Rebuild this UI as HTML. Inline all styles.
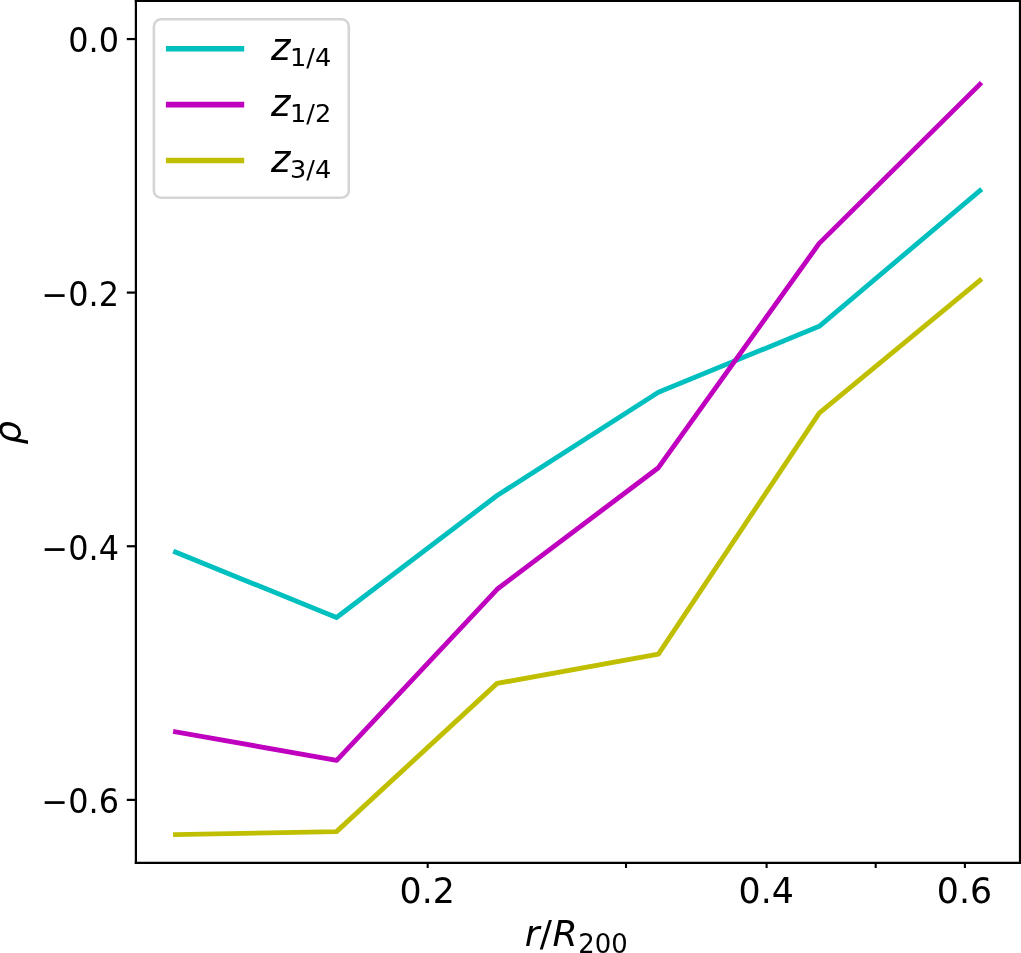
<!DOCTYPE html>
<html lang="en">
<head>
<meta charset="utf-8">
<title>rho vs r/R200</title>
<style>
html,body{margin:0;padding:0;background:#fff;}
body{width:1021px;height:953px;overflow:hidden;}
svg{display:block;}
text{font-family:"DejaVu Sans","Liberation Sans",sans-serif;fill:#000;}
.tick{font-size:33.33px;}
.lab{font-size:36.11px;}
.sub{font-size:25.6px;}
.it{font-style:oblique;}
</style>
</head>
<body>
<svg width="1021" height="953" viewBox="0 0 1021 953">
<rect x="0" y="0" width="1021" height="953" fill="#ffffff"/>

<!-- data lines -->
<g fill="none" stroke-width="4.85" stroke-linecap="square" stroke-linejoin="round">
<polyline stroke="#00bfbf" points="175.5,552.07 336.5,617.5 497.1,495.5 658.4,392.3 819.2,326.3 979.87,190.67"/>
<polyline stroke="#bf00bf" points="175.5,731.84 336.7,760.3 497.1,589.3 658.4,467.7 819.2,243.4 979.86,84.35"/>
<polyline stroke="#bfbf00" points="175.5,834.55 336.5,831.6 497.1,683.4 658.4,654.1 819.2,413.1 979.88,280.37"/>
</g>

<!-- spines -->
<g fill="none" stroke="#000" stroke-width="2.22" stroke-linecap="square">
<line x1="135.9" y1="1" x2="135.9" y2="862.9"/>
<line x1="1020" y1="1" x2="1020" y2="862.9"/>
<line x1="135.9" y1="862.9" x2="1020" y2="862.9"/>
<line x1="135.9" y1="1" x2="1020" y2="1"/>
</g>

<!-- y ticks -->
<g stroke="#000" stroke-width="2.22">
<line x1="126.8" y1="39.05" x2="135.9" y2="39.05"/>
<line x1="126.8" y1="292.6" x2="135.9" y2="292.6"/>
<line x1="126.8" y1="546.25" x2="135.9" y2="546.25"/>
<line x1="126.8" y1="799.9" x2="135.9" y2="799.9"/>
</g>
<g class="tick" text-anchor="end">
<text transform="translate(119.0,52.3) scale(0.957,1)">0.0</text>
<text transform="translate(119.0,305.9) scale(0.957,1)">−0.2</text>
<text transform="translate(119.0,559.5) scale(0.957,1)">−0.4</text>
<text transform="translate(119.0,813.2) scale(0.957,1)">−0.6</text>
</g>

<!-- x ticks (minor ticks on log axis) -->
<g stroke="#000" stroke-width="2.1">
<line x1="427.7" y1="862.9" x2="427.7" y2="868.0"/>
<line x1="626.0" y1="862.9" x2="626.0" y2="868.0"/>
<line x1="766.6" y1="862.9" x2="766.6" y2="868.0"/>
<line x1="875.7" y1="862.9" x2="875.7" y2="868.0"/>
<line x1="964.9" y1="862.9" x2="964.9" y2="868.0"/>
</g>
<g class="tick" text-anchor="middle" style="font-size:36.11px">
<text transform="translate(427.25,903.2) scale(0.963,1)">0.2</text>
<text transform="translate(766.15,903.2) scale(0.963,1)">0.4</text>
<text transform="translate(964.45,903.2) scale(0.963,1)">0.6</text>
</g>

<!-- axis labels -->
<text class="lab" x="524.8" y="946.1"><tspan class="it">r</tspan>/<tspan class="it" dx="0.6">R</tspan><tspan class="sub" dx="0.8" dy="7.0" style="font-size:25.9px">200</tspan></text>
<text class="lab it" style="font-size:37.2px" transform="translate(20.3,444.5) rotate(-90)">ρ</text>

<!-- legend -->
<rect x="153.9" y="19.2" width="194.9" height="178.6" rx="7.2" ry="7.2" fill="#ffffff" fill-opacity="0.8" stroke="#d5d5d5" stroke-width="2.6"/>
<g fill="none" stroke-width="5.56" stroke-linecap="butt">
<line stroke="#00bfbf" x1="165.9" y1="48.8" x2="244.2" y2="48.8"/>
<line stroke="#bf00bf" x1="165.9" y1="104.6" x2="244.2" y2="104.6"/>
<line stroke="#bfbf00" x1="165.9" y1="160.5" x2="244.2" y2="160.5"/>
</g>
<text class="lab" x="271.0" y="60.0"><tspan class="it" style="font-size:37px">z</tspan><tspan class="sub" dx="-0.4" dy="6.2">1/4</tspan></text>
<text class="lab" x="271.0" y="115.85"><tspan class="it" style="font-size:37px">z</tspan><tspan class="sub" dx="-0.4" dy="6.2">1/2</tspan></text>
<text class="lab" x="271.0" y="171.7"><tspan class="it" style="font-size:37px">z</tspan><tspan class="sub" dx="-0.4" dy="6.2">3/4</tspan></text>
</svg>
</body>
</html>
